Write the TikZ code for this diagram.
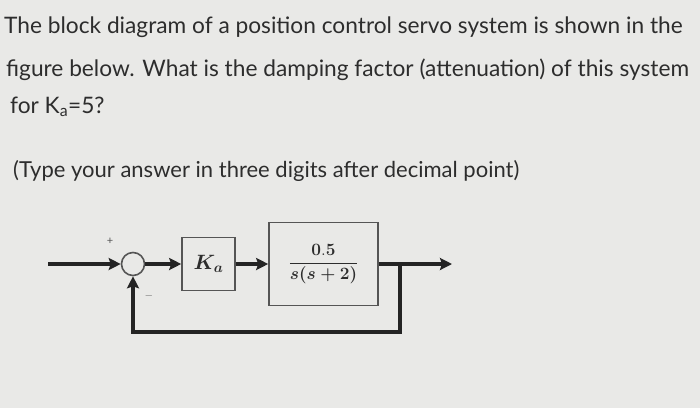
\documentclass[tikz,border=0pt]{standalone}
\usepackage{amsmath}
\usepackage[no-math]{fontspec}
\setmainfont{Lato}
\usetikzlibrary{shapes,arrows.meta,positioning}
\definecolor{paper}{RGB}{233,233,231}
\definecolor{ink}{RGB}{45,45,45}
\definecolor{frame}{RGB}{85,85,85}
\tikzstyle{question} = [anchor=base west, inner sep=0pt, text=ink,
   font=\fontsize{22.7}{26}\selectfont]
\tikzstyle{block} = [rectangle, draw=frame, line width=1.6pt, text=ink,
   text centered]
\tikzstyle{sum} = [circle, draw=frame, line width=1.6pt, minimum size=23pt,
   inner sep=0pt]
\tikzstyle{sign} = [text=frame, inner sep=0pt, font=\fontsize{11}{11}\selectfont]
\tikzstyle{line} = [draw=ink!80!black, line width=3.2pt,
   -{Stealth[length=12pt, width=12pt, inset=2pt]}]

\begin{document}
\begin{tikzpicture}[x=1pt, y=-1pt]
\fill[paper] (0,0) rectangle (700,408);
% Question text
\node [question] (qa) at (4,33) {The block diagram of a position control servo system is shown in the};
\node [question] (qb) at (6,76) {figure below. What is the damping factor (attenuation) of this system};
\node [question] (qc) at (10,113) {for K\textsubscript{a}=5?};
\node [question, font=\fontsize{22}{26}\selectfont] (qd) at (13,177) {(Type your answer in three digits after decimal point)};
% Place nodes
\coordinate (input) at (48,264);
\node [sum] (sum) at (133,264) {};
\node [sign] (plus) at (110,241) {+};
\node [sign] (minus) at (149,296) {$-$};
\node [block, right of=sum, node distance=75.5pt, minimum width=53pt, minimum height=53pt, font=\fontsize{22}{22}\selectfont] (gain) {$\boldsymbol{K_a}$};
\node [block, right of=gain, node distance=115pt, minimum width=109pt, minimum height=83pt, font=\fontsize{17}{17}\selectfont] (plant) {$\dfrac{\mathbf{0.5}}{\boldsymbol{s(s+2)}}$};
\coordinate (branch) at (400,264);
\coordinate (output) at (452,264);
% Draw edges
\path [line] (input) -- (sum);
\path [line] (sum) -- (gain);
\path [line] (gain) -- (plant);
\path [line] (plant) -- (output);
\path [line] (branch) -- (branch |- 0,332) -| (sum);
\end{tikzpicture}
\end{document}
